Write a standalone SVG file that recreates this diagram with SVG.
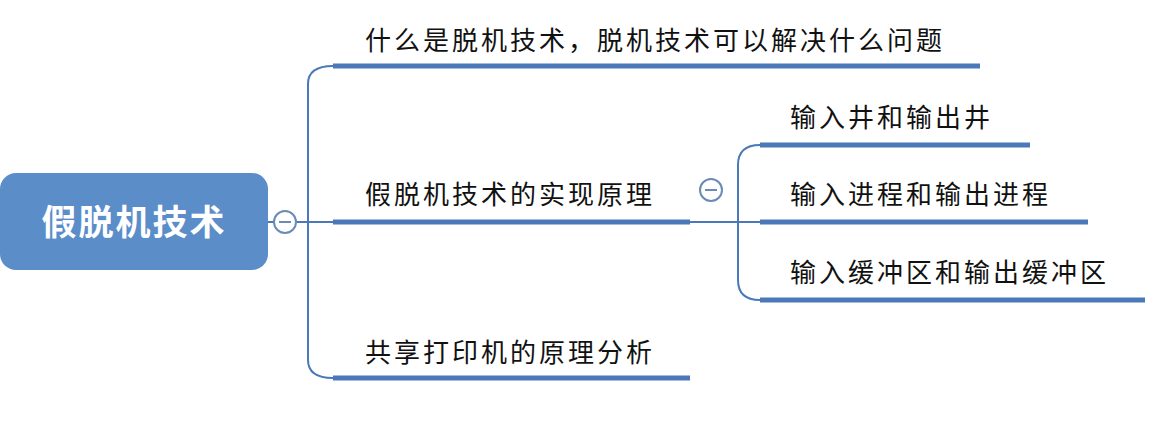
<svg xmlns="http://www.w3.org/2000/svg" width="1158" height="443" viewBox="0 0 1158 443">
<style>
.t{font-family:"Noto Sans CJK SC",sans-serif;font-size:26px;letter-spacing:3px;fill:#111}
.u{stroke:#4a78b8;stroke-width:5}
.c{fill:none;stroke:#4a78b8;stroke-width:2}
.k{fill:#fff;stroke:#6a8bb5;stroke-width:2}
</style>
<rect width="1158" height="443" fill="#fff"/>
<g id="connectors">
<path class="c" d="M268 222H333"/>
<path class="c" d="M308 222V84Q308 66 333 66M308 222V360Q308 378 333 378"/>
<path class="c" d="M690 222H760"/>
<path class="c" d="M738 222V165Q738 145 760 145M738 222V280Q738 300 760 300"/>
</g>
<g id="root">
<rect x="0" y="173" width="268" height="97" rx="16" fill="#5b8dc9"/>
<text x="134" y="235" text-anchor="middle" style="font-family:'Noto Sans CJK SC',sans-serif;font-size:35px;letter-spacing:2px;font-weight:bold;fill:#fff">假脱机技术</text>
<circle class="k" cx="285" cy="222" r="11"/><path d="M279 222H291" stroke="#6a8bb5" stroke-width="2"/>
</g>
<g id="n1"><line class="u" x1="333" y1="66" x2="980" y2="66"/><text class="t" x="365" y="50">什么是脱机技术，脱机技术可以解决什么问题</text></g>
<g id="n2"><line class="u" x1="333" y1="222" x2="690" y2="222"/><text class="t" x="365" y="204">假脱机技术的实现原理</text>
<circle class="k" cx="711" cy="190" r="11"/><path d="M705 190H717" stroke="#6a8bb5" stroke-width="2"/></g>
<g id="n3"><line class="u" x1="333" y1="378" x2="690" y2="378"/><text class="t" x="365" y="362">共享打印机的原理分析</text></g>
<g id="s1"><line class="u" x1="760" y1="145" x2="1030" y2="145"/><text class="t" x="790" y="127">输入井和输出井</text></g>
<g id="s2"><line class="u" x1="760" y1="222" x2="1088" y2="222"/><text class="t" x="790" y="204">输入进程和输出进程</text></g>
<g id="s3"><line class="u" x1="760" y1="300" x2="1145" y2="300"/><text class="t" x="790" y="282">输入缓冲区和输出缓冲区</text></g>
</svg>
